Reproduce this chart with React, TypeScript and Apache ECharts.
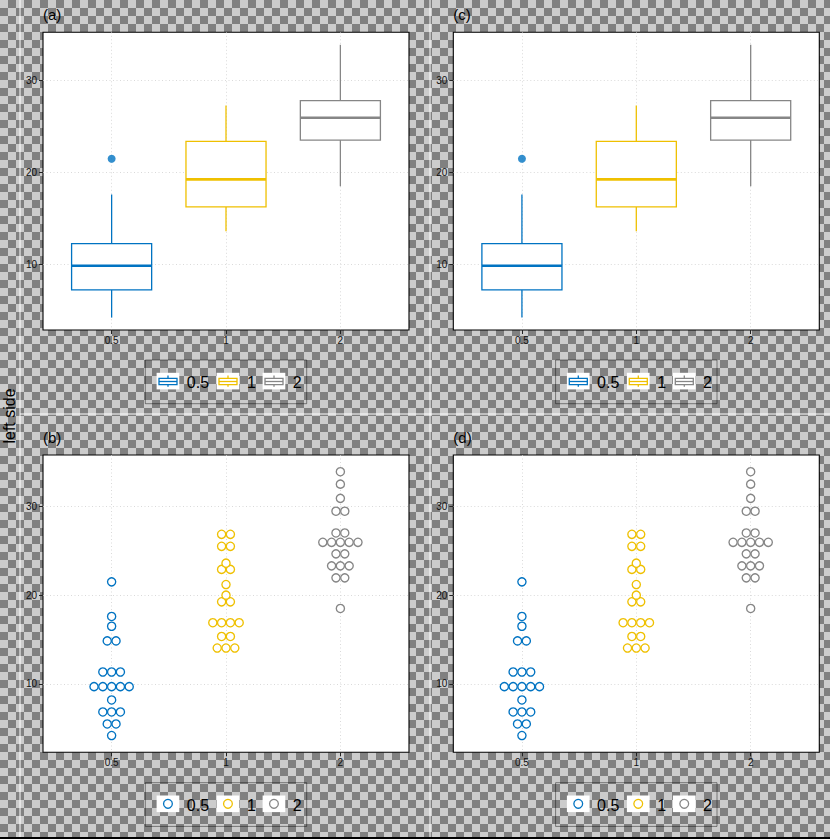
import { useEffect, useRef } from 'react';
import * as echarts from 'echarts';

const doses = ['0.5', '1', '2'];
const palette = ['#0073C2', '#EFC000', '#868686'];
const yTicks = [10, 20, 30];

// box statistics per dose: lower whisker, Q1, median, Q3, upper whisker
const boxLow = [4.2, 13.6, 18.5];
const boxQ1 = [7.225, 16.25, 23.525];
const boxMedian = [9.85, 19.25, 25.95];
const boxQ3 = [12.25, 23.375, 27.825];
const boxHigh = [17.6, 27.3, 33.9];
const outlierDose = [0];
const outlierLen = [21.5];

// dot plot rows: bin centre and number of stacked dots
const dotCentre05 = [4.2, 5.5, 6.85, 8.2, 9.7, 11.35, 14.85, 16.5, 17.6, 21.5];
const dotCount05 = [1, 2, 3, 1, 5, 3, 2, 1, 1, 1];
const dotCentre1 = [14.05, 15.35, 16.9, 19.25, 20.0, 21.2, 22.9, 23.6, 25.5, 26.85];
const dotCount1 = [3, 2, 4, 2, 1, 1, 2, 1, 2, 2];
const dotCentre2 = [18.5, 21.95, 23.3, 24.65, 25.95, 27.0, 29.45, 30.9, 32.5, 33.9];
const dotCount2 = [1, 2, 3, 2, 5, 2, 2, 1, 1, 1];
const dotBinWidth = 0.99;

const FONT = "'Liberation Sans', Arial, Helvetica, sans-serif";
const BOX_WIDTH = 0.7;

const panels = [
  { label: '(a)', kind: 'box', left: 43, top: 32.3, height: 297.7, yMin: 2.85, yMax: 35.26 },
  { label: '(c)', kind: 'box', left: 453.3, top: 32.3, height: 297.7, yMin: 2.85, yMax: 35.26 },
  { label: '(b)', kind: 'dot', left: 43, top: 455, height: 297.3, yMin: 2.31, yMax: 35.78 },
  { label: '(d)', kind: 'dot', left: 453.3, top: 455, height: 297.3, yMin: 2.31, yMax: 35.78 },
];

const xPositions = doses.map((_, i) => i + 1);

function legendElements(x0: number, y0: number, kind: string) {
  const els: any[] = [
    {
      type: 'rect',
      shape: { x: x0, y: y0, width: 161.4, height: 43.7 },
      style: { fill: 'none', stroke: 'rgba(0,0,0,0.55)', lineWidth: 0.8 },
      silent: true,
    },
  ];
  const keyX = [11.3, 71.3, 117.3];
  const textX = [41.5, 101.7, 147.4];
  doses.forEach((d, i) => {
    const kx = x0 + keyX[i];
    const ky = y0 + 12.8;
    const c = palette[i];
    els.push({ type: 'rect', shape: { x: kx, y: ky, width: 22.7, height: 16.6 }, style: { fill: '#fff' } });
    if (kind === 'box') {
      els.push(
        { type: 'line', shape: { x1: kx + 11.4, y1: ky + 2.7, x2: kx + 11.4, y2: ky + 14 }, style: { stroke: c, lineWidth: 1.3 } },
        { type: 'rect', shape: { x: kx + 2.4, y: ky + 5.6, width: 18, height: 6.2 }, style: { fill: '#fff', stroke: c, lineWidth: 1.3 } },
        { type: 'line', shape: { x1: kx + 2.4, y1: ky + 8.7, x2: kx + 20.4, y2: ky + 8.7 }, style: { stroke: c, lineWidth: 1.3 } },
      );
    } else {
      els.push({ type: 'circle', shape: { cx: kx + 11.35, cy: ky + 8.3, r: 4.4 }, style: { fill: '#fff', stroke: c, lineWidth: 1.3 } });
    }
    els.push({
      type: 'text',
      x: x0 + textX[i],
      y: y0 + 22.3,
      style: { text: d, fontSize: 16, fontFamily: FONT, fill: '#000', textVerticalAlign: 'middle' },
    });
  });
  return els;
}

const renderBox = (params: any, api: any) => {
  const x = api.value(0);
  const lo = api.coord([x, api.value(1)]);
  const q1 = api.coord([x, api.value(2)]);
  const md = api.coord([x, api.value(3)]);
  const q3 = api.coord([x, api.value(4)]);
  const hi = api.coord([x, api.value(5)]);
  const half = api.size([BOX_WIDTH, 0])[0] / 2;
  const color = palette[params.dataIndex];
  return {
    type: 'group',
    children: [
      { type: 'line', shape: { x1: lo[0], y1: lo[1], x2: q1[0], y2: q1[1] }, style: { stroke: color, lineWidth: 1.3 } },
      { type: 'line', shape: { x1: hi[0], y1: hi[1], x2: q3[0], y2: q3[1] }, style: { stroke: color, lineWidth: 1.3 } },
      {
        type: 'rect',
        shape: { x: q3[0] - half, y: q3[1], width: half * 2, height: q1[1] - q3[1] },
        style: { fill: '#fff', stroke: color, lineWidth: 1.3 },
      },
      { type: 'line', shape: { x1: md[0] - half, y1: md[1], x2: md[0] + half, y2: md[1] }, style: { stroke: color, lineWidth: 2.6 } },
    ],
  };
};

const renderDots = (_params: any, api: any) => {
  const x = api.value(0);
  const count = api.value(2);
  const centre = api.coord([x, api.value(1)]);
  const d = api.size([0, dotBinWidth])[1];
  const color = palette[Math.round(x) - 1];
  const children: any[] = [];
  for (let k = 0; k < count; k++) {
    children.push({
      type: 'circle',
      shape: { cx: centre[0] + (k - (count - 1) / 2) * d, cy: centre[1], r: d / 2 - 0.3 },
      style: { fill: '#fff', stroke: color, lineWidth: 1.35 },
    });
  }
  return { type: 'group', children };
};

const boxData = doses.map((_, i) => [xPositions[i], boxLow[i], boxQ1[i], boxMedian[i], boxQ3[i], boxHigh[i]]);
const outlierData = outlierDose.map((di, i) => ({ value: [xPositions[di], outlierLen[i]], itemStyle: { color: palette[di] } }));
const dotData = [
  ...dotCentre05.map((y, i) => [xPositions[0], y, dotCount05[i]]),
  ...dotCentre1.map((y, i) => [xPositions[1], y, dotCount1[i]]),
  ...dotCentre2.map((y, i) => [xPositions[2], y, dotCount2[i]]),
];

const gridLine = { show: true, lineStyle: { color: '#d0d0d0', width: 0.8, type: [1, 2.5] } };

function buildOption() {
  const series: any[] = [];
  panels.forEach((p, gi) => {
    if (p.kind === 'box') {
      series.push({
        type: 'custom',
        xAxisIndex: gi,
        yAxisIndex: gi,
        renderItem: renderBox,
        encode: { x: 0, y: [1, 2, 3, 4, 5] },
        data: boxData,
        silent: true,
      });
      series.push({
        type: 'scatter',
        xAxisIndex: gi,
        yAxisIndex: gi,
        symbolSize: 8,
        data: outlierData,
        silent: true,
      });
    } else {
      series.push({
        type: 'custom',
        xAxisIndex: gi,
        yAxisIndex: gi,
        renderItem: renderDots,
        encode: { x: 0, y: 1 },
        data: dotData,
        silent: true,
      });
    }
  });

  const graphic: any[] = [
    { type: 'line', shape: { x1: 20, y1: 0, x2: 20, y2: 839 }, style: { stroke: '#fff', lineWidth: 1 } },
    { type: 'line', shape: { x1: 430, y1: 0, x2: 430, y2: 839 }, style: { stroke: '#fff', lineWidth: 1 } },
    { type: 'line', shape: { x1: 20, y1: 414, x2: 830, y2: 414 }, style: { stroke: '#fff', lineWidth: 1 } },
    { type: 'rect', shape: { x: 0, y: 837, width: 830, height: 2 }, style: { fill: '#000' } },
    {
      type: 'text',
      x: 9,
      y: 416,
      rotation: Math.PI / 2,
      style: { text: 'left side', fontSize: 16, fontFamily: FONT, fill: '#000', textAlign: 'center', textVerticalAlign: 'middle' },
    },
  ];
  panels.forEach((p) => {
    graphic.push({
      type: 'text',
      x: p.left,
      y: p.top - 17.5,
      style: { text: p.label, fontSize: 15, fontFamily: FONT, fill: '#000', textVerticalAlign: 'middle' },
    });
    graphic.push(...legendElements(p.left + 102.3, p.top + 327.7, p.kind));
  });

  return {
    animation: false,
    backgroundColor: 'transparent',
    textStyle: { fontFamily: FONT },
    grid: panels.map((p) => ({
      left: p.left,
      top: p.top,
      width: 366,
      height: p.height,
      show: true,
      backgroundColor: '#fff',
      borderColor: '#000',
      borderWidth: 1.1,
    })),
    xAxis: panels.map((_, gi) => ({
      type: 'value',
      gridIndex: gi,
      min: 0.4,
      max: 3.6,
      axisLine: { show: false },
      axisTick: { show: true, length: 4, customValues: xPositions, lineStyle: { color: '#222', width: 1 } },
      axisLabel: {
        customValues: xPositions,
        formatter: (v: number) => doses[Math.round(v) - 1] ?? '',
        fontSize: 10,
        color: '#111',
        margin: 5,
        fontFamily: FONT,
      },
      splitLine: gridLine,
    })),
    yAxis: panels.map((p, gi) => ({
      type: 'value',
      gridIndex: gi,
      min: p.yMin,
      max: p.yMax,
      axisLine: { show: false },
      axisTick: { show: true, length: 4, customValues: yTicks, lineStyle: { color: '#222', width: 1 } },
      axisLabel: { customValues: yTicks, fontSize: 10, color: '#111', margin: 6, fontFamily: FONT },
      splitLine: gridLine,
    })),
    graphic,
    series,
  };
}

export default function App() {
  const chartRef = useRef<HTMLDivElement>(null);

  useEffect(() => {
    if (!chartRef.current) return;
    const chart = echarts.init(chartRef.current, null, { renderer: 'svg' });
    chart.setOption(buildOption());
    return () => {
      chart.dispose();
    };
  }, []);

  return (
    <div
      ref={chartRef}
      style={{
        position: 'absolute',
        left: 0,
        top: 0,
        width: 830,
        height: 839,
        backgroundColor: '#cccccc',
        backgroundImage: 'conic-gradient(#808080 0 25%, #cccccc 0 50%, #808080 0 75%, #cccccc 0)',
        backgroundSize: '16px 16px',
      }}
    />
  );
}
